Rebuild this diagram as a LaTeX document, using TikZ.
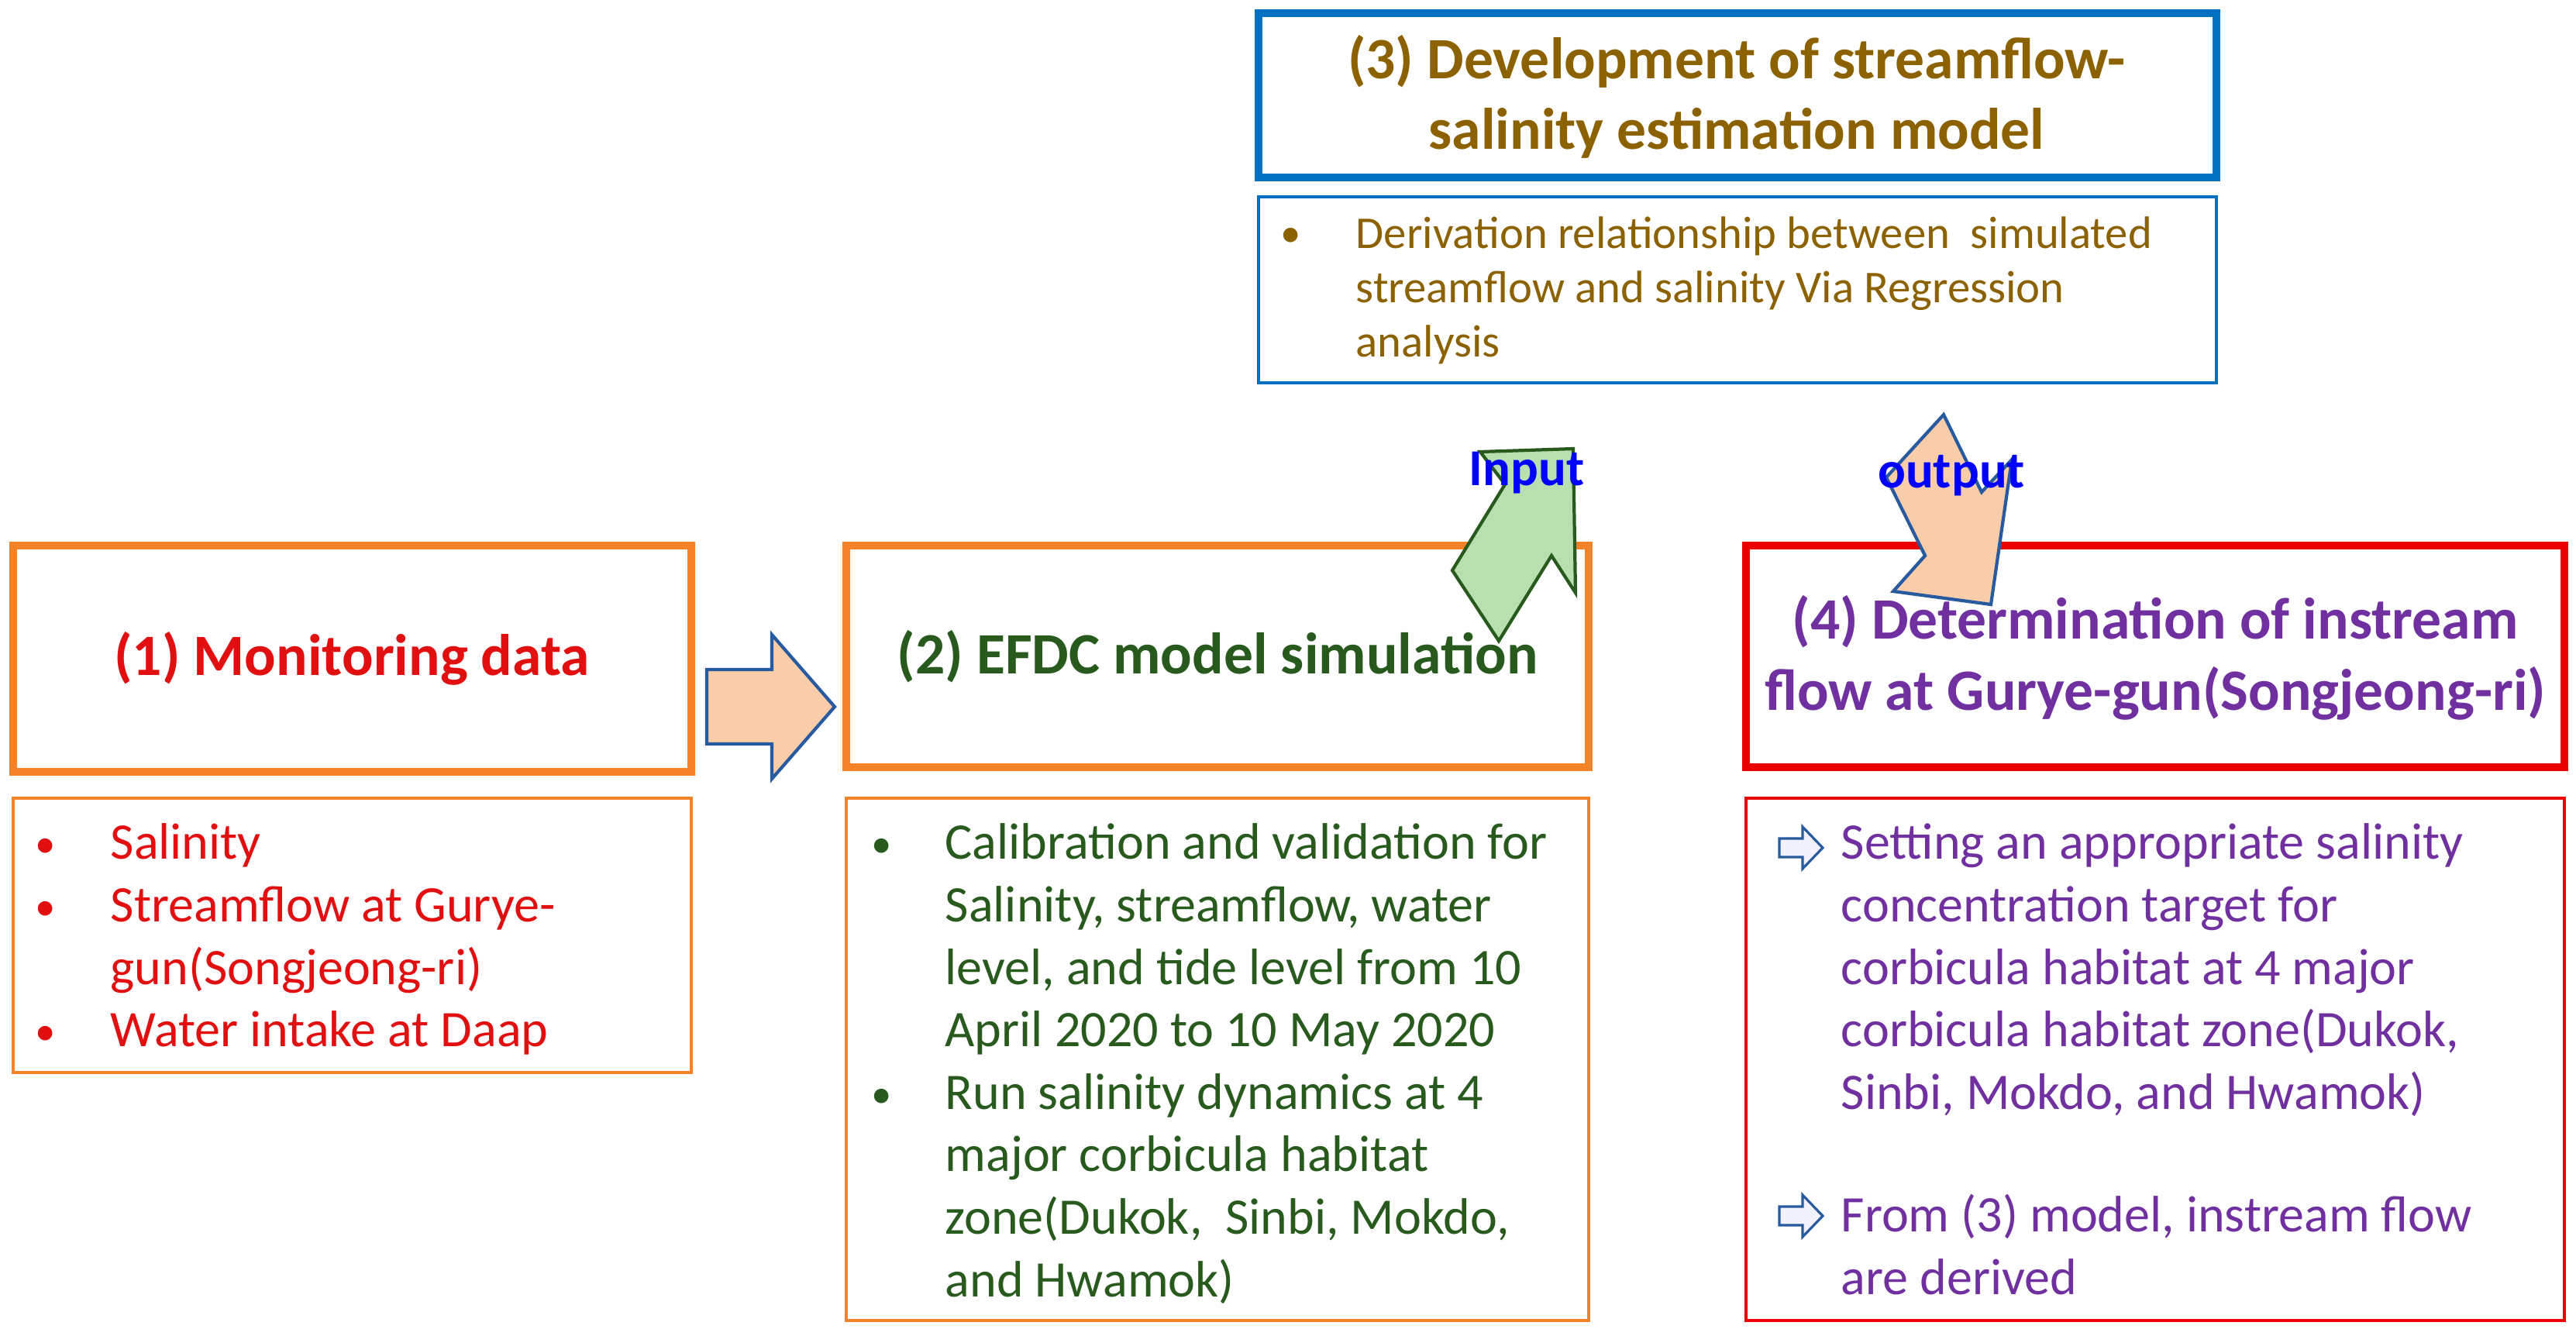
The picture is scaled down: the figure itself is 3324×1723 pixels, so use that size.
\documentclass[tikz,border=0pt]{standalone}
\usepackage{fontspec}
\setmainfont{Carlito}
\definecolor{org}{RGB}{245,130,40}
\definecolor{rd}{RGB}{235,0,0}
\definecolor{tred}{RGB}{225,15,15}
\definecolor{tgrn}{RGB}{40,90,30}
\definecolor{tolv}{RGB}{140,98,0}
\definecolor{tpur}{RGB}{112,48,160}
\definecolor{bl}{RGB}{0,112,192}
\definecolor{peach}{RGB}{250,205,170}
\definecolor{lgrn}{RGB}{185,222,175}
\definecolor{dgrn}{RGB}{40,90,30}
\definecolor{abl}{RGB}{40,90,160}
\begin{document}
\begin{tikzpicture}[x=0.01cm,y=-0.01cm,
  thick box/.style={line width=2.6pt},
  thin box/.style={line width=0.9pt},
  ttl/.style={font=\fontsize{21.5}{26}\selectfont\bfseries,align=center},
  ln/.style={anchor=base west,inner sep=0pt,font=\fontsize{18.8}{23}\selectfont},
  ln3/.style={anchor=base west,inner sep=0pt,font=\fontsize{16.7}{20}\selectfont},
  bul/.style={anchor=base,inner sep=0pt,font=\fontsize{15}{23}\selectfont}]
\useasboundingbox (0,0) rectangle (3324,1723);
% boxes
\draw[org,thick box] (17,704) rectangle (892,996);
\node[ttl,text=tred] (t1) at (454,850) {(1) Monitoring data};
\draw[org,thin box] (17,1030) rectangle (892,1384);
\draw[org,thick box] (1092,704) rectangle (2050,990);
\node[ttl,text=tgrn] (t2) at (1571,847) {(2) EFDC model simulation};
\draw[org,thin box] (1092,1030) rectangle (2050,1704);
\draw[bl,thick box] (1624,17) rectangle (2860,229);
\node[ttl,text=tolv] (t3) at (2241,125) {(3) Development of streamflow-\\salinity estimation model};
\draw[bl,thin box] (1624,254) rectangle (2860,494);
\draw[rd,thick box] (2253,704) rectangle (3309,990);
\node[ttl,text=tpur] (t4) at (2781,849) {(4) Determination of instream\\flow at Gurye-gun(Songjeong-ri)};
\draw[rd,thin box] (2253,1030) rectangle (3309,1704);
% right arrow
\draw[abl,line width=1.2pt,fill=peach] (912,864) -- (996,864) -- (996,819) -- (1077,912) -- (996,1005) -- (996,960) -- (912,960) -- cycle;
% input / output arrows
\draw[dgrn,line width=1.2pt,fill=lgrn] (1910,583) -- (2030,579) -- (2033,765) -- (2002,717) -- (1934,827) -- (1874,736) -- (1942,625) -- cycle;
\draw[abl,line width=1.2pt,fill=peach] (2508,535) -- (2557,635) -- (2596,593) -- (2569,780) -- (2443,763) -- (2484,717) -- (2434,616) -- cycle;
\node[font=\fontsize{19}{23}\selectfont\bfseries,text=blue,inner sep=0pt] (in) at (1970,610) {Input};
\node[font=\fontsize{19}{23}\selectfont\bfseries,text=blue,inner sep=0pt] (out) at (2518,614) {output};
% box1 list
\begin{scope}[text=tred]
\node[bul] (b11) at (59,1106) {•};
\node[ln] (l11) at (142,1108) {Salinity};
\node[bul] (b12) at (59,1187) {•};
\node[ln] (l12) at (142,1189) {Streamflow at Gurye-};
\node[ln] (l13) at (142,1270) {gun(Songjeong-ri)};
\node[bul] (b13) at (59,1348) {•};
\node[ln] (l14) at (142,1350) {Water intake at Daap};
\end{scope}
% box2 list
\begin{scope}[text=tgrn]
\node[bul] (b21) at (1138,1106) {•};
\node[ln] (l21) at (1219,1108) {Calibration and validation for};
\node[ln] (l22) at (1219,1189) {Salinity, streamflow, water};
\node[ln] (l23) at (1219,1270) {level, and tide level from 10};
\node[ln] (l24) at (1219,1350) {April 2020 to 10 May 2020};
\node[bul] (b22) at (1138,1429) {•};
\node[ln] (l25) at (1219,1431) {Run salinity dynamics at 4};
\node[ln] (l26) at (1219,1511) {major corbicula habitat};
\node[ln] (l27) at (1219,1592) {zone(Dukok,\ \ Sinbi, Mokdo,};
\node[ln] (l28) at (1219,1673) {and Hwamok)};
\end{scope}
% box3 list
\begin{scope}[text=tolv]
\node[bul] (b31) at (1666,318) {•};
\node[ln3] (l31) at (1749,320) {Derivation relationship between\ \ simulated};
\node[ln3] (l32) at (1749,390) {streamflow and salinity Via Regression};
\node[ln3] (l33) at (1749,460) {analysis};
\end{scope}
% box4 list
\foreach \yy/\nm in {1094/a1,1569/a2}{
  \draw[abl,line width=0.9pt,fill=blue!5] (2296,\yy-12) -- (2326,\yy-12) -- (2326,\yy-27) -- (2352,\yy) -- (2326,\yy+27) -- (2326,\yy+12) -- (2296,\yy+12) -- cycle;
}
\begin{scope}[text=tpur]
\node[ln] (l41) at (2375,1108) {Setting an appropriate salinity};
\node[ln] (l42) at (2375,1189) {concentration target for};
\node[ln] (l43) at (2375,1270) {corbicula habitat at 4 major};
\node[ln] (l44) at (2375,1350) {corbicula habitat zone(Dukok,};
\node[ln] (l45) at (2375,1431) {Sinbi, Mokdo, and Hwamok)};
\node[ln] (l46) at (2375,1589) {From (3) model, instream flow};
\node[ln] (l47) at (2375,1670) {are derived};
\end{scope}
\end{tikzpicture}
\end{document}
